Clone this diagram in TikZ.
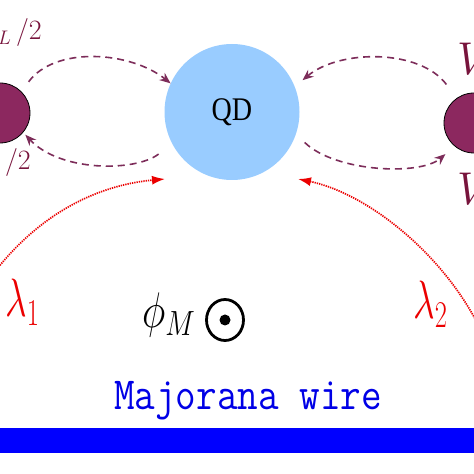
\RequirePackage{fix-cm}
\documentclass[tikz,border=0pt]{standalone}
\usepackage{graphicx}
\usepackage{fontspec}
\newfontfamily\qdfont{Liberation Serif}
\usetikzlibrary{arrows.meta,shapes.geometric}
\definecolor{leadcol}{RGB}{140,40,95}
\definecolor{hopcol}{RGB}{125,45,90}
\definecolor{labcol}{RGB}{120,20,60}
\definecolor{qdcol}{RGB}{153,204,255}
\definecolor{lamred}{RGB}{235,0,0}
\definecolor{wireblue}{RGB}{0,0,230}
\tikzset{
  lead/.style={circle,draw=black,line width=0.8pt,fill=leadcol,minimum size=60pt,inner sep=0},
  hop/.style={draw=hopcol,line width=1.6pt,dash pattern=on 7pt off 5pt,-{Stealth[length=11pt,width=9pt]}},
  soc/.style={draw=lamred,line width=1.7pt,dash pattern=on 1.3pt off 1pt,-{Latex[length=13pt,width=9pt]}},
  lab/.style={text=labcol,inner sep=0}
}
\begin{document}
\begin{tikzpicture}[x=1pt,y=1pt]
    \pgfmathsetmacro{\picsize}{474}
    \pgfmathsetmacro{\qdwidth}{135}
    \pgfmathsetmacro{\qdheight}{136}
    \providecommand{\labelfontsize}{\fontsize{28}{28}\selectfont}
    \providecommand{\vfontsize}{\fontsize{46}{46}\selectfont}
    \useasboundingbox (0,0) rectangle (\picsize,\picsize);
    \clip (0,0) rectangle (\picsize,\picsize);
    % leads and the dot
    \node[lead] (ldot) at (0,361) {};
    \node[lead] (rdot) at (474,351) {};
    \node[ellipse,fill=qdcol,minimum width=\qdwidth pt,minimum height=\qdheight pt,inner sep=0] (qd) at (232,362) {\raisebox{-4pt}{\scalebox{0.85}[1]{\fontsize{33}{33}\qdfont QD}}};
    % tunnelling
    \draw[hop,shorten <=12pt] (ldot.45) .. controls (55,428) and (130,423) .. (qd.155);
    \draw[hop,shorten <=17pt,shorten >=3pt] (qd.208) .. controls (135,302) and (60,302) .. (ldot.-40);
    \draw[hop,shorten <=17pt,shorten >=10pt] (rdot.125) .. controls (420,425) and (340,425) .. (qd.22);
    \draw[hop,shorten <=12pt,shorten >=12pt] (qd.-19) .. controls (335,302) and (420,298) .. (rdot.230);
    \node[lab,anchor=base east,font=\labelfontsize] (gtop) at (42,434) {$\Gamma_L\,/2$};
    \node[lab,anchor=base east,font=\labelfontsize] (gbot) at (31,304) {$\Gamma_L\,/2$};
    \node[lab,anchor=base west,font=\vfontsize] (vtop) at (457,399) {$V_R$};
    \node[lab,anchor=base west,font=\vfontsize] (vbot) at (457,269) {$V_R$};
    % coupling to the wire
    \coordinate (lfoot) at (-10,196);
    \coordinate (rfoot) at (485,135);
    \coordinate (ltip) at (165,295);
    \coordinate (rtip) at (298,295);
    \draw[soc] (lfoot) .. controls (45,270) and (110,290) .. (ltip);
    \draw[soc] (rfoot) .. controls (450,215) and (370,280) .. (rtip);
    \node[anchor=base west,inner sep=0,text=lamred] (lam1) at (5,157) {\scalebox{0.7}[1]{\fontsize{54}{54}\selectfont$\lambda_1$}};
    \node[anchor=base west,inner sep=0,text=lamred] (lam2) at (413,155) {\scalebox{0.7}[1]{\fontsize{54}{54}\selectfont$\lambda_2$}};
    % flux
    \node[anchor=base west,inner sep=0] (phim) at (142,146) {\scalebox{0.8}[1]{\fontsize{50}{50}\selectfont$\phi_M$}};
    \node[ellipse,draw,line width=2.8pt,minimum width=37pt,minimum height=41pt,inner sep=0] (odot) at (225,154) {};
    \fill (odot.center) circle (5.5pt);
    % wire
    \node[text=wireblue,inner sep=0,anchor=base] (wlabel) at (248,64) {\scalebox{1}[1.15]{\fontsize{40}{40}\ttfamily Majorana wire}};
    \fill[blue] (0,21) rectangle (\picsize,46);
\end{tikzpicture}
\end{document}
